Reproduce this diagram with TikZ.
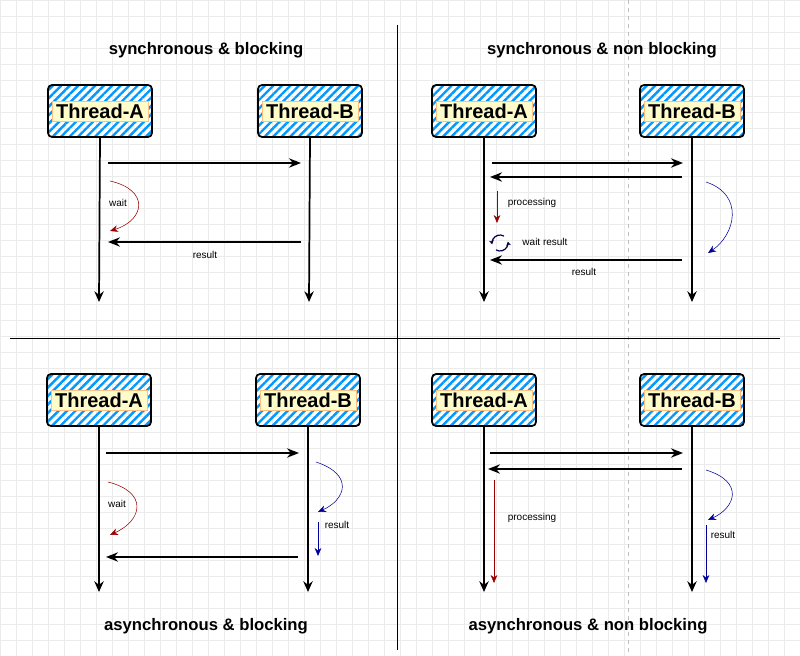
\documentclass[tikz,border=0pt]{standalone}
\usepackage{fontspec}
\setmainfont{Liberation Sans}
\usetikzlibrary{patterns.meta,arrows.meta}
\tikzset{
    thread/.style = {
        draw, rounded corners=3pt, line width=1.3pt,
        pattern={Lines[angle=45,distance=4.5pt,line width=1.8pt]},
        pattern color=cyan!60!blue,
        minimum width=78pt, minimum height=39pt,
    },
    label/.style = {
        draw=orange!50, fill=yellow!20, font=\bfseries\fontsize{15}{17}\selectfont,
        inner xsep=3pt, inner ysep=2pt, minimum width=70pt,
    },
    life/.style = {line width=1.3pt, -{Stealth[length=8pt,width=7pt]}},
    msg/.style = {line width=1.2pt, -{Stealth[length=9pt,width=7pt]}},
    small/.style = {font=\fontsize{7.5}{9}\selectfont},
    title/.style = {font=\bfseries\fontsize{12.5}{14}\selectfont},
    redarr/.style = {draw=red!60!black, -{Stealth[length=6pt,width=5pt]}},
    bluearr/.style = {draw=blue!60!black, -{Stealth[length=6pt,width=5pt]}},
}
\newcommand{\thr}[4]{%
  \node[thread] (#1) at (#2,#3) {};
  \node[label] at (#1) {#4};
}
\begin{document}
\begin{tikzpicture}[x=0.75pt,y=-0.75pt]
  \useasboundingbox (0,0) rectangle (800,656);
  \foreach \g in {0,16,...,800} \draw[black!8] (\g,0) -- (\g,656);
  \foreach \g in {0,16,...,656} \draw[black!8] (0,\g) -- (800,\g);
  \draw[black!25, dashed] (628,0) -- (628,656);
  \draw[black, thin] (397,25) -- (397,650);
  \draw[black, thin] (10,338) -- (780,338);

  % synchronous & blocking
  \node[title] (T1) at (206,50) {synchronous \& blocking};
  \thr{A1}{100}{111}{Thread-A}
  \thr{B1}{310}{111}{Thread-B}
  \coordinate (a1e) at (99,302); \coordinate (b1e) at (309,302);
  \draw[life] (A1.south) -- (a1e);
  \draw[life] (B1.south) -- (b1e);
  \coordinate (p1) at (108,163); \coordinate (q1) at (301,163);
  \draw[msg] (p1) -- (q1);
  \coordinate (w1s) at (110,181); \coordinate (w1e) at (110,231);
  \draw[redarr] (w1s) .. controls (150,190) and (145,220) .. (w1e);
  \node[small] (w1) at (118,203) {wait};
  \coordinate (r1s) at (301,242); \coordinate (r1e) at (108,242);
  \draw[msg] (r1s) -- (r1e);
  \node[small] (r1) at (205,255) {result};

  % synchronous & non blocking
  \node[title] (T2) at (602,50) {synchronous \& non blocking};
  \thr{A2}{484}{111}{Thread-A}
  \thr{B2}{692}{111}{Thread-B}
  \coordinate (a2e) at (484,302); \coordinate (b2e) at (692,302);
  \draw[life] (A2.south) -- (a2e);
  \draw[life] (B2.south) -- (b2e);
  \coordinate (p2) at (492,163); \coordinate (q2) at (683,163);
  \draw[msg] (p2) -- (q2);
  \coordinate (p2b) at (682,177); \coordinate (q2b) at (490,177);
  \draw[msg] (p2b) -- (q2b);
  \coordinate (pr2s) at (497,191); \coordinate (pr2e) at (497,223);
  \draw[redarr] (pr2s) -- (pr2e);
  \node[small] (pr2) at (532,203) {processing};
  \coordinate (ic) at (500,243);
  \draw[blue!30!black, line width=0.9pt, -{Stealth[length=3pt,width=3.5pt]}]
    (ic) ++(60:6pt) arc[start angle=60, end angle=190, radius=6pt];
  \draw[blue!30!black, line width=0.9pt, -{Stealth[length=3pt,width=3.5pt]}]
    (ic) ++(240:6pt) arc[start angle=240, end angle=370, radius=6pt];
  \node[small] (wr2) at (545,242) {wait result};
  \coordinate (w2s) at (706,182); \coordinate (w2e) at (708,253);
  \draw[bluearr] (w2s) .. controls (745,195) and (735,235) .. (w2e);
  \coordinate (r2s) at (682,260); \coordinate (r2e) at (490,260);
  \draw[msg] (r2s) -- (r2e);
  \node[small] (r2) at (584,272) {result};

  % asynchronous & blocking
  \node[title] (T3) at (206,626) {asynchronous \& blocking};
  \thr{A3}{99}{400}{Thread-A}
  \thr{B3}{308}{400}{Thread-B}
  \coordinate (a3e) at (99,592); \coordinate (b3e) at (308,592);
  \draw[life] (A3.south) -- (a3e);
  \draw[life] (B3.south) -- (b3e);
  \coordinate (p3) at (106,453); \coordinate (q3) at (299,453);
  \draw[msg] (p3) -- (q3);
  \coordinate (w3s) at (316,462); \coordinate (w3e) at (318,512);
  \draw[bluearr] (w3s) .. controls (355,475) and (345,500) .. (w3e);
  \coordinate (d3s) at (318,522); \coordinate (d3e) at (318,556);
  \draw[bluearr] (d3s) -- (d3e);
  \node[small] (r3) at (337,525) {result};
  \coordinate (w3as) at (108,482); \coordinate (w3ae) at (110,535);
  \draw[redarr] (w3as) .. controls (148,492) and (143,520) .. (w3ae);
  \node[small] (w3) at (117,504) {wait};
  \coordinate (r3s) at (298,557); \coordinate (r3e) at (106,557);
  \draw[msg] (r3s) -- (r3e);

  % asynchronous & non blocking
  \node[title] (T4) at (588,626) {asynchronous \& non blocking};
  \thr{A4}{484}{400}{Thread-A}
  \thr{B4}{692}{400}{Thread-B}
  \coordinate (a4e) at (484,592); \coordinate (b4e) at (692,592);
  \draw[life] (A4.south) -- (a4e);
  \draw[life] (B4.south) -- (b4e);
  \coordinate (p4) at (490,453); \coordinate (q4) at (683,453);
  \draw[msg] (p4) -- (q4);
  \coordinate (p4b) at (682,469); \coordinate (q4b) at (488,469);
  \draw[msg] (p4b) -- (q4b);
  \coordinate (pr4s) at (494,480); \coordinate (pr4e) at (494,583);
  \draw[redarr] (pr4s) -- (pr4e);
  \node[small] (pr4) at (532,518) {processing};
  \coordinate (w4s) at (706,470); \coordinate (w4e) at (708,520);
  \draw[bluearr] (w4s) .. controls (745,482) and (735,508) .. (w4e);
  \coordinate (d4s) at (706,525); \coordinate (d4e) at (706,583);
  \draw[bluearr] (d4s) -- (d4e);
  \node[small] (r4) at (723,535) {result};
\end{tikzpicture}
\end{document}
